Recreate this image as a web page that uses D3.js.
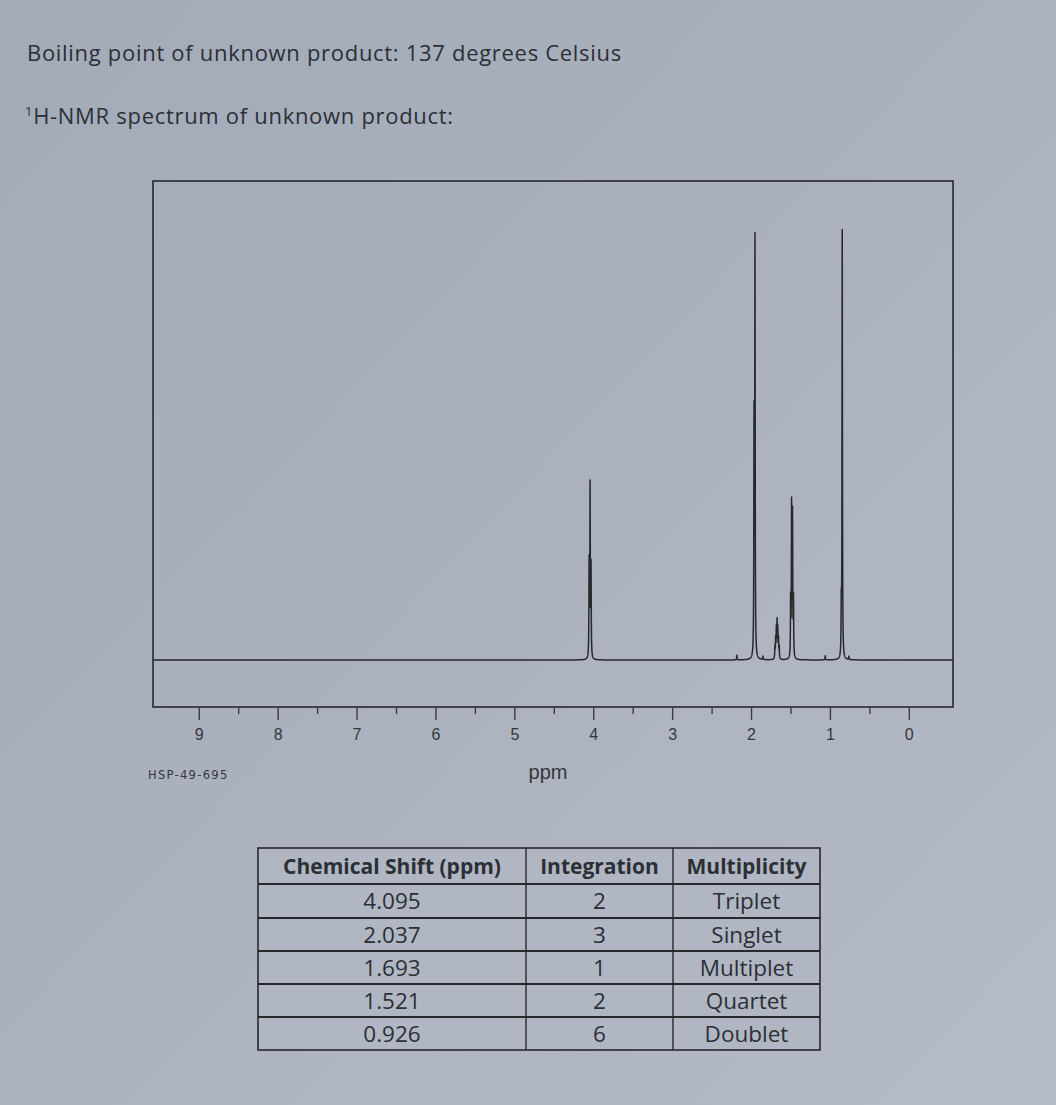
<!DOCTYPE html>
<html>
<head>
<meta charset="utf-8">
<script src="https://cdn.jsdelivr.net/npm/d3@7"></script>
<style>
  body { margin: 0; background: #aab1bd; }
  svg { display: block; }
</style>
</head>
<body>
<div id="chart"></div>
<script>
var width = 1056,
  height = 1105;

// lines (ppm, relative height 0-100)
var peakShifts  = [4.028, 4.040, 4.052, 2.18, 1.950, 1.962, 1.85,
  1.643, 1.652, 1.661, 1.670, 1.679, 1.688, 1.697,
  1.462, 1.474, 1.486, 1.498, 1.06, 0.844, 0.856, 0.76];
var peakHeights = [19, 36, 20, 1.0, 88, 50, 0.7,
  2.5, 4, 6, 7.5, 6, 4, 2.5,
  12, 30, 32, 12, 0.9, 91, 10, 0.7];

var tickMajor = [0, 1, 2, 3, 4, 5, 6, 7, 8, 9];
var tickMinor = [0.5, 1.5, 2.5, 3.5, 4.5, 5.5, 6.5, 7.5, 8.5];

// table
var tableHeader = ["Chemical Shift (ppm)", "Integration", "Multiplicity"];
var shifts = ["4.095", "2.037", "1.693", "1.521", "0.926"];
var integrations = ["2", "3", "1", "2", "6"];
var multiplicities = ["Triplet", "Singlet", "Multiplet", "Quartet", "Doublet"];

var textColor = "#2c2f36",
  lineColor = "#26282c",
  font = "'Open Sans', sans-serif";

var svg = d3.select("#chart").append("svg")
  .attr("width", width)
  .attr("height", height);

var defs = svg.append("defs");
var grad = defs.append("linearGradient")
  .attr("id", "bg")
  .attr("x1", 0).attr("y1", 0)
  .attr("x2", 1).attr("y2", 1);
grad.append("stop").attr("offset", 0).attr("stop-color", "#a3abb8");
grad.append("stop").attr("offset", 0.5).attr("stop-color", "#abb2be");
grad.append("stop").attr("offset", 1).attr("stop-color", "#b6bcc6");

svg.append("rect")
  .attr("width", width)
  .attr("height", height)
  .attr("fill", "url(#bg)");

// titles
svg.append("text")
  .attr("x", 27)
  .attr("y", 61)
  .attr("font-family", font)
  .attr("font-size", 22)
  .attr("letter-spacing", 0.7)
  .attr("fill", textColor)
  .text("Boiling point of unknown product: 137 degrees Celsius");

var t2 = svg.append("text")
  .attr("x", 25)
  .attr("y", 124)
  .attr("font-family", font)
  .attr("font-size", 22)
  .attr("letter-spacing", 0.7)
  .attr("fill", textColor);
t2.append("tspan")
  .attr("font-size", 13)
  .attr("dy", -8)
  .text("1");
t2.append("tspan")
  .attr("dy", 8)
  .text("H-NMR spectrum of unknown product:");

// spectrum plot
var frame = {left: 153, right: 953, top: 181, bottom: 707};

var x = d3.scaleLinear()
  .domain([9.58, -0.56])
  .range([frame.left, frame.right]);

var y = d3.scaleLinear()
  .domain([0, 100])
  .range([660, 190]);

var gamma = 0.003;
var spectrum = [];
for (var p = 9.58; p >= -0.56; p -= 0.001) {
  var s = 0;
  for (var i = 0; i < peakShifts.length; i++) {
    var dx = p - peakShifts[i];
    s += peakHeights[i] * gamma * gamma / (dx * dx + gamma * gamma);
  }
  spectrum.push([p, s]);
}

svg.append("rect")
  .attr("x", frame.left)
  .attr("y", frame.top)
  .attr("width", frame.right - frame.left)
  .attr("height", frame.bottom - frame.top)
  .attr("fill", "none")
  .attr("stroke", lineColor)
  .attr("stroke-width", 1.6);

var line = d3.line()
  .x(function(d) { return x(d[0]); })
  .y(function(d) { return y(d[1]); });

svg.append("path")
  .datum(spectrum)
  .attr("d", line)
  .attr("fill", "none")
  .attr("stroke", lineColor)
  .attr("stroke-width", 1.5)
  .attr("stroke-linejoin", "round");

// axis
var minorAxis = svg.append("g")
  .attr("transform", "translate(0," + frame.bottom + ")")
  .call(d3.axisBottom(x).tickValues(tickMinor).tickSize(7).tickFormat(""));

var majorAxis = svg.append("g")
  .attr("transform", "translate(0," + frame.bottom + ")")
  .call(d3.axisBottom(x).tickValues(tickMajor).tickSize(13).tickPadding(9).tickFormat(d3.format("d")));

svg.selectAll(".domain").remove();
svg.selectAll(".tick line")
  .attr("stroke", "#3a3d43")
  .attr("stroke-width", 1.4);
majorAxis.selectAll("text")
  .attr("font-family", "'Liberation Sans', sans-serif")
  .attr("font-size", 16)
  .attr("fill", "#34373d");

svg.append("text")
  .attr("x", 548)
  .attr("y", 779)
  .attr("text-anchor", "middle")
  .attr("font-family", "'Liberation Sans', sans-serif")
  .attr("font-size", 20)
  .attr("fill", "#34373d")
  .text("ppm");

svg.append("text")
  .attr("x", 148)
  .attr("y", 779)
  .attr("font-family", "'DejaVu Sans', sans-serif")
  .attr("font-size", 11.5)
  .attr("letter-spacing", 1.3)
  .attr("fill", "#34373d")
  .text("HSP-49-695");

// table
var colX = [258, 526, 673, 820];
var rowY = [848, 884, 918, 951, 984, 1017, 1050];

var table = svg.append("g");

table.append("rect")
  .attr("x", colX[0])
  .attr("y", rowY[0])
  .attr("width", colX[3] - colX[0])
  .attr("height", rowY[6] - rowY[0])
  .attr("fill", "#b0b7c2")
  .attr("stroke", lineColor)
  .attr("stroke-width", 1.6);

table.selectAll(".hline")
  .data(rowY.slice(1, 6))
  .enter().append("line")
  .attr("x1", colX[0]).attr("x2", colX[3])
  .attr("y1", function(d) { return d; })
  .attr("y2", function(d) { return d; })
  .attr("stroke", lineColor)
  .attr("stroke-width", 2);

table.selectAll(".vline")
  .data(colX.slice(1, 3))
  .enter().append("line")
  .attr("x1", function(d) { return d; })
  .attr("x2", function(d) { return d; })
  .attr("y1", rowY[0]).attr("y2", rowY[6])
  .attr("stroke", lineColor)
  .attr("stroke-width", 1.4);

function colCenter(c) { return (colX[c] + colX[c + 1]) / 2; }

table.selectAll(".head")
  .data(tableHeader)
  .enter().append("text")
  .attr("x", function(d, i) { return colCenter(i); })
  .attr("y", (rowY[0] + rowY[1]) / 2 + 8)
  .attr("text-anchor", "middle")
  .attr("font-family", font)
  .attr("font-weight", "bold")
  .attr("font-size", 21)
  .attr("fill", textColor)
  .text(function(d) { return d; });

var columns = [shifts, integrations, multiplicities];
columns.forEach(function(col, c) {
  table.selectAll(".cell" + c)
    .data(col)
    .enter().append("text")
    .attr("x", colCenter(c))
    .attr("y", function(d, r) { return (rowY[r + 1] + rowY[r + 2]) / 2 + 8; })
    .attr("text-anchor", "middle")
    .attr("font-family", font)
    .attr("font-size", 22.5)
    .attr("fill", textColor)
    .text(function(d) { return d; });
});
</script>
</body>
</html>
